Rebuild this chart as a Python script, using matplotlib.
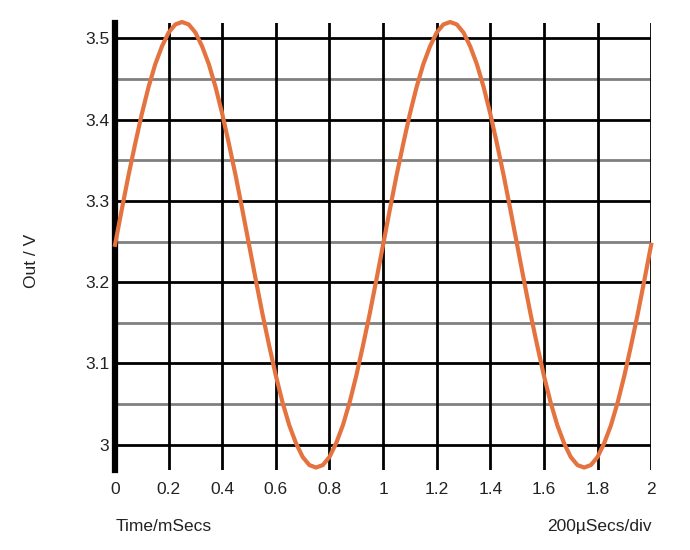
import matplotlib.pyplot as plt

plt.rcParams['font.family'] = ['Liberation Sans', 'DejaVu Sans']

# time in ms, sampled every 25 us
time_ms = [i * 0.025 for i in range(81)]

# output voltage
out_v = [
    3.246, 3.289, 3.331, 3.370, 3.407, 3.440, 3.468, 3.490, 3.507, 3.517,
    3.520, 3.517, 3.507, 3.490, 3.468, 3.440, 3.407, 3.370, 3.331, 3.289,
    3.246, 3.203, 3.161, 3.122, 3.085, 3.052, 3.024, 3.002, 2.985, 2.975,
    2.972, 2.975, 2.985, 3.002, 3.024, 3.052, 3.085, 3.122, 3.161, 3.203,
    3.246, 3.289, 3.331, 3.370, 3.407, 3.440, 3.468, 3.490, 3.507, 3.517,
    3.520, 3.517, 3.507, 3.490, 3.468, 3.440, 3.407, 3.370, 3.331, 3.289,
    3.246, 3.203, 3.161, 3.122, 3.085, 3.052, 3.024, 3.002, 2.985, 2.975,
    2.972, 2.975, 2.985, 3.002, 3.024, 3.052, 3.085, 3.122, 3.161, 3.203,
    3.246,
]

x_ticks = [0, 0.2, 0.4, 0.6, 0.8, 1, 1.2, 1.4, 1.6, 1.8, 2]
x_labels = ['0', '0.2', '0.4', '0.6', '0.8', '1', '1.2', '1.4', '1.6', '1.8', '2']
y_major = [3.0, 3.1, 3.2, 3.3, 3.4, 3.5]
y_labels = ['3', '3.1', '3.2', '3.3', '3.4', '3.5']
y_minor = [3.05, 3.15, 3.25, 3.35, 3.45]

fig = plt.figure(figsize=(6.9, 5.5), dpi=100)
ax = fig.add_axes([0.1667, 0.1455, 0.777, 0.813])

ax.set_xlim(0, 2)
ax.set_ylim(2.969, 3.519)

# grid
for y in y_minor:
    ax.axhline(y, color='#808080', lw=2, zorder=1)
for y in y_major:
    ax.axhline(y, color='black', lw=2, zorder=2)
for x in x_ticks[1:]:
    ax.axvline(x, color='black', lw=2, zorder=2)

for s in ['top', 'right', 'bottom']:
    ax.spines[s].set_visible(False)
ax.spines['left'].set_linewidth(4.5)
ax.spines['left'].set_zorder(3)

ax.plot(time_ms, out_v, color='#E5733F', lw=3, zorder=4, clip_on=False)

ax.set_xticks(x_ticks)
ax.set_xticklabels(x_labels)
ax.set_yticks(y_major)
ax.set_yticklabels(y_labels)
ax.tick_params(length=0, labelsize=12.5, colors='#222222', pad=4)
ax.tick_params(axis='x', pad=9)

fig.text(0.045, 0.525, 'Out / V', rotation=90, ha='center', va='center',
         fontsize=12.5, color='#222222')
fig.text(0.168, 0.042, 'Time/mSecs', ha='left', va='center',
         fontsize=12.5, color='#222222')
fig.text(0.945, 0.042, '200µSecs/div', ha='right', va='center',
         fontsize=12.5, color='#222222')

fig.savefig('out.png', dpi=100)
